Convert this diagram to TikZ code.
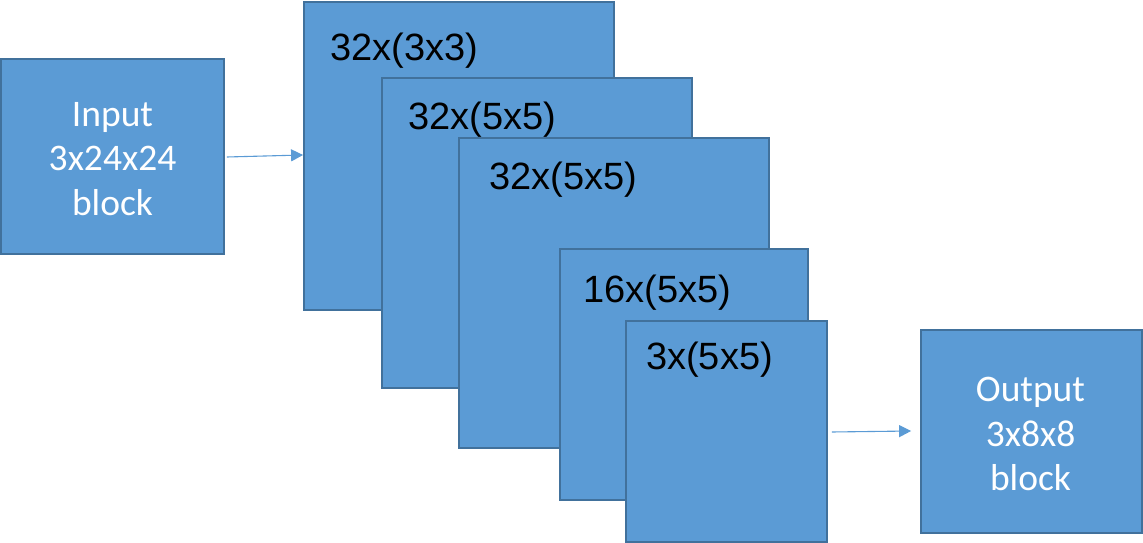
\documentclass[tikz,border=0pt]{standalone}
\usepackage{fontspec}
\setmainfont{Liberation Sans}
\newfontfamily\calfont{Carlito}
\usetikzlibrary{arrows.meta}
\definecolor{boxfill}{HTML}{5B9BD5}
\definecolor{boxline}{HTML}{41719C}
\definecolor{arrcol}{HTML}{5B9BD5}
\begin{document}
\begin{tikzpicture}[x=1pt,y=1pt,
  blk/.style={draw=boxline,fill=boxfill,line width=1.8pt,inner sep=0pt,rectangle},
  iotext/.style={text=white,font=\calfont\fontsize{37.5}{44.5}\selectfont,align=center,inner sep=0pt},
  lbl/.style={anchor=base west,inner sep=0pt,font=\fontsize{38}{44}\selectfont,text=black},
  arr/.style={draw=arrcol,line width=1.1pt,-{Triangle[length=12pt,width=12pt]}}]
\useasboundingbox (0,0) rectangle (1143,543);
\node[blk,minimum width=223pt,minimum height=195pt] (in) at (112.5,386.5) {};
\node[iotext] (tin) at ([yshift=-2.5pt]in.center) {Input\\3x24x24\\block};
\node[blk,minimum width=310pt,minimum height=308pt] (l1) at (459,387) {};
\node[lbl] (t1) at (330,482) {32x(3x3)};
\node[blk,minimum width=310pt,minimum height=310pt] (l2) at (537,310) {};
\node[lbl] (t2) at (408,413) {32x(5x5)};
\node[blk,minimum width=310pt,minimum height=310pt] (l3) at (614,250) {};
\node[lbl] (t3) at (489,353) {32x(5x5)};
\node[blk,minimum width=248pt,minimum height=251pt] (l4) at (684,168.5) {};
\node[lbl] (t4) at (583,240) {16x(5x5)};
\node[blk,minimum width=201pt,minimum height=221pt] (l5) at (726.5,111.5) {};
\node[lbl] (t5) at (646,173) {3x(5x5)};
\node[blk,minimum width=221pt,minimum height=203pt] (out) at (1031.5,111.5) {};
\node[iotext] (tout) at ([xshift=-1pt,yshift=-2.5pt]out.center) {Output\\3x8x8\\block};
\draw[arr] ([xshift=2pt,yshift=-0.5pt]in.east) -- ([yshift=1pt]l1.west);
\draw[arr] ([xshift=4pt,yshift=-0.5pt]l5.east) -- ([xshift=-9pt,yshift=0.5pt]out.west);
\end{tikzpicture}
\end{document}
